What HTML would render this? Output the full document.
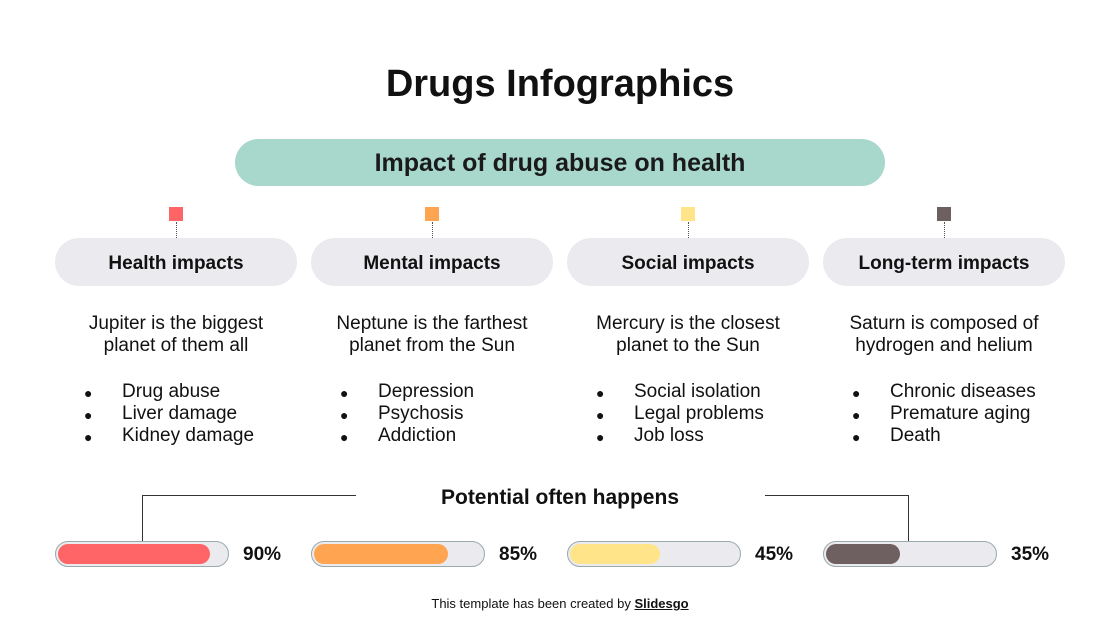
<!DOCTYPE html><html><head><style>
body{margin:0;width:1120px;height:630px;background:#fff;font-family:"Liberation Sans",sans-serif;color:#111;position:relative;overflow:hidden}
.a{position:absolute}
.title{left:0;width:1120px;top:63px;text-align:center;font-size:38px;font-weight:bold}
.top{left:235px;top:139px;width:650px;height:47px;border-radius:24px;background:#a8d8cc;text-align:center;line-height:49px;font-size:25px;font-weight:bold;color:#1a1a1a}
.sq{width:14px;height:14px;top:207px}
.dot{top:222px;height:16px;border-left:1.5px dotted #555}
.pill{top:238px;width:242px;height:48px;border-radius:24px;background:#ebebef;text-align:center;line-height:51px;font-size:19px;font-weight:bold}
.desc{top:313px;width:242px;text-align:center;font-size:19px;line-height:22px}
.bl{top:381px;font-size:19px;line-height:22px}
.bl div{position:relative;padding-left:38px}
.bl div:before{content:"●";position:absolute;left:0;top:1px;font-size:14px}
.bar{top:541px;width:172px;height:24px;border-radius:13px;background:#ebebef;border:1px solid #9aa}
.fill{position:absolute;left:2px;top:2px;height:20px;border-radius:10px}
.pct{top:543px;font-size:19px;font-weight:bold;line-height:24px}
</style></head><body>
<div class="a title">Drugs Infographics</div>
<div class="a top">Impact of drug abuse on health</div>

<div class="a sq" style="left:169px;background:#ff6466"></div>
<div class="a sq" style="left:425px;background:#ffa450"></div>
<div class="a sq" style="left:681px;background:#ffe48a"></div>
<div class="a sq" style="left:937px;background:#6e5f60"></div>
<div class="a dot" style="left:176px"></div><div class="a dot" style="left:432px"></div><div class="a dot" style="left:688px"></div><div class="a dot" style="left:944px"></div>

<div class="a pill" style="left:55px">Health impacts</div>
<div class="a pill" style="left:311px">Mental impacts</div>
<div class="a pill" style="left:567px">Social impacts</div>
<div class="a pill" style="left:823px">Long-term impacts</div>

<div class="a desc" style="left:55px">Jupiter is the biggest<br>planet of them all</div>
<div class="a desc" style="left:311px">Neptune is the farthest<br>planet from the Sun</div>
<div class="a desc" style="left:567px">Mercury is the closest<br>planet to the Sun</div>
<div class="a desc" style="left:823px">Saturn is composed of<br>hydrogen and helium</div>

<div class="a bl" style="left:84px"><div>Drug abuse</div><div>Liver damage</div><div>Kidney damage</div></div>
<div class="a bl" style="left:340px"><div>Depression</div><div>Psychosis</div><div>Addiction</div></div>
<div class="a bl" style="left:596px"><div>Social isolation</div><div>Legal problems</div><div>Job loss</div></div>
<div class="a bl" style="left:852px"><div>Chronic diseases</div><div>Premature aging</div><div>Death</div></div>

<div class="a" style="left:0;width:1120px;top:486px;text-align:center;font-size:21px;font-weight:bold">Potential often happens</div>
<div class="a" style="left:142px;top:495px;width:213px;height:46px;border-left:1.5px solid #333;border-top:1.5px solid #333"></div>
<div class="a" style="left:765px;top:495px;width:143px;height:46px;border-right:1.5px solid #333;border-top:1.5px solid #333"></div>

<div class="a bar" style="left:55px"><div class="fill" style="width:152px;background:#ff6466"></div></div>
<div class="a bar" style="left:311px"><div class="fill" style="width:134px;background:#ffa450"></div></div>
<div class="a bar" style="left:567px"><div class="fill" style="width:90px;background:#ffe48a"></div></div>
<div class="a bar" style="left:823px"><div class="fill" style="width:74px;background:#6e5f60"></div></div>
<div class="a pct" style="left:243px">90%</div>
<div class="a pct" style="left:499px">85%</div>
<div class="a pct" style="left:755px">45%</div>
<div class="a pct" style="left:1011px">35%</div>

<div class="a" style="left:0;width:1120px;top:596px;text-align:center;font-size:13px">This template has been created by <b style="text-decoration:underline">Slidesgo</b></div>
</body></html>
